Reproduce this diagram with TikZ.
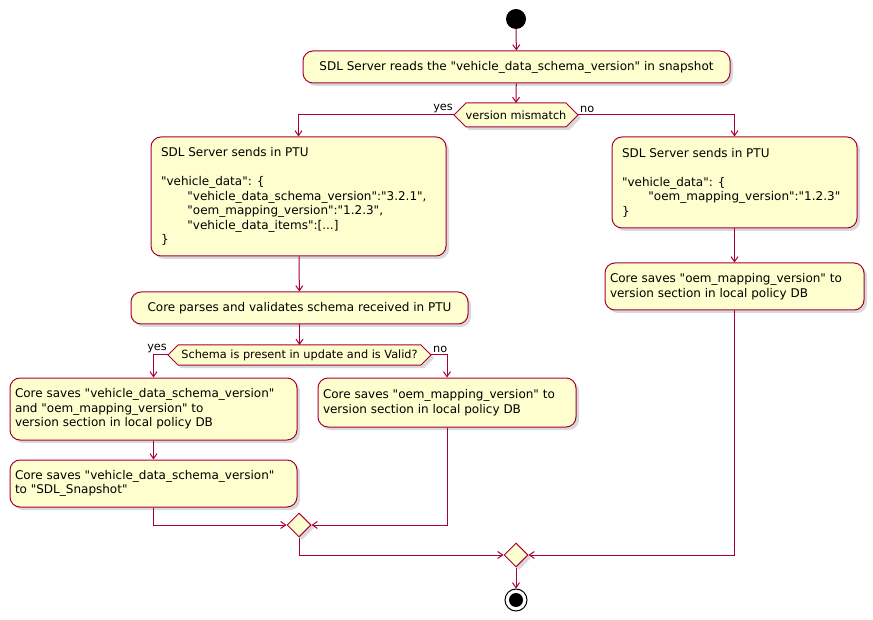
\documentclass[tikz,border=0pt]{standalone}
\usepackage{fontspec}
\setmainfont{DejaVu Sans}[Ligatures=TeXOff]
\usetikzlibrary{shapes.geometric,arrows.meta,shadows}
\definecolor{bfill}{HTML}{FEFECE}
\definecolor{bline}{HTML}{A80036}
\tikzset{
 act/.style={draw=bline,fill=bfill,line width=1pt,rounded corners=10pt,font=\fontsize{12}{14.5}\selectfont,align=flush left,inner sep=0pt,drop shadow={shadow xshift=3pt,shadow yshift=-3pt,opacity=0.3}},
 dec/.style={draw=bline,fill=bfill,line width=1pt,drop shadow={shadow xshift=3pt,shadow yshift=-3pt,opacity=0.3}},
 flow/.style={draw=bline,line width=1pt,-{Straight Barb[length=5pt,width=7pt]}},
 lbl/.style={font=\fontsize{11.3}{13}\selectfont,inner sep=1pt}
}
\newcommand{\ind}{\hspace*{2.2em}}
\begin{document}
\begin{tikzpicture}[x=1pt,y=-1pt]
\useasboundingbox (0,0) rectangle (873,620);
\node[circle,fill=black,minimum size=20pt,inner sep=0pt] (start) at (516,19) {};
\node[act,minimum width=427pt,minimum height=32pt,align=center] (b1) at (516.5,67) {SDL Server reads the "vehicle\_data\_schema\_version" in snapshot};
\draw[dec] (454,115) -- (466,103) -- (566,103) -- (578,115) -- (566,127) -- (466,127) -- cycle;
\node[font=\fontsize{11.3}{13}\selectfont] (d1) at (516,115) {version mismatch};
\coordinate (d1l) at (454,115); \coordinate (d1r) at (578,115);
\node[lbl,anchor=south east] at (454,114) {yes};
\node[lbl,anchor=south west] at (579,114) {no};
\node[act,minimum width=295pt,minimum height=119pt,text width=275pt] (b2) at (298.5,196.5) {SDL Server sends in PTU\\[14.5pt]"vehicle\_data": \{\\\ind"vehicle\_data\_schema\_version":"3.2.1",\\\ind"oem\_mapping\_version":"1.2.3",\\\ind"vehicle\_data\_items":[...]\\\}};
\node[act,minimum width=245pt,minimum height=91pt,text width=225pt] (b3) at (734.5,182.5) {SDL Server sends in PTU\\[14.5pt]"vehicle\_data": \{\\\ind"oem\_mapping\_version":"1.2.3"\\\}};
\node[act,minimum width=259pt,minimum height=47pt,text width=249pt] (b4) at (734.5,286.5) {Core saves "oem\_mapping\_version" to\\version section in local policy DB};
\node[act,minimum width=337pt,minimum height=32pt,align=center] (b5) at (299.5,308) {Core parses and validates schema received in PTU};
\draw[dec] (168,355) -- (178,345) -- (421,345) -- (431,355) -- (421,365) -- (178,365) -- cycle;
\node[font=\fontsize{11.3}{13}\selectfont] (d2) at (299.5,355) {Schema is present in update and is Valid?};
\coordinate (d2l) at (168,355); \coordinate (d2r) at (431,355);
\node[lbl,anchor=south east] at (168,354) {yes};
\node[lbl,anchor=south west] at (432,354) {no};
\node[act,minimum width=287pt,minimum height=62pt,text width=277pt] (b6) at (153.5,409) {Core saves "vehicle\_data\_schema\_version"\\and "oem\_mapping\_version" to\\version section in local policy DB};
\node[act,minimum width=258pt,minimum height=49pt,text width=248pt] (b7) at (447,402.5) {Core saves "oem\_mapping\_version" to\\version section in local policy DB};
\node[act,minimum width=287pt,minimum height=47pt,text width=277pt] (b8) at (153.5,483.5) {Core saves "vehicle\_data\_schema\_version"\\to "SDL\_Snapshot"};
\node[dec,diamond,minimum size=24pt,inner sep=0pt] (m1) at (299,525) {};
\node[dec,diamond,minimum size=24pt,inner sep=0pt] (m2) at (516,555) {};
\node[circle,draw=black,line width=1pt,minimum size=22pt,inner sep=0pt] (end) at (516,600) {};
\node[circle,fill=black,minimum size=14pt,inner sep=0pt] at (end) {};
\draw[flow] (start) -- (b1);
\draw[flow] (b1) -- (516,103);
\draw[flow] (d1l) -| (b2.north);
\draw[flow] (d1r) -| (b3.north);
\draw[flow] (b3) -- (b4);
\draw[flow] (b2) -- (b5);
\draw[flow] (b5) -- (299.5,345);
\draw[flow] (d2l) -| (b6.north);
\draw[flow] (d2r) -| (b7.north);
\draw[flow] (b6) -- (b8);
\draw[flow] (b8.south) |- (m1.west);
\draw[flow] (b7.south) |- (m1.east);
\draw[flow] (m1.south) |- (m2.west);
\draw[flow] (b4.south) |- (m2.east);
\draw[flow] (m2) -- (end);
\end{tikzpicture}
\end{document}
